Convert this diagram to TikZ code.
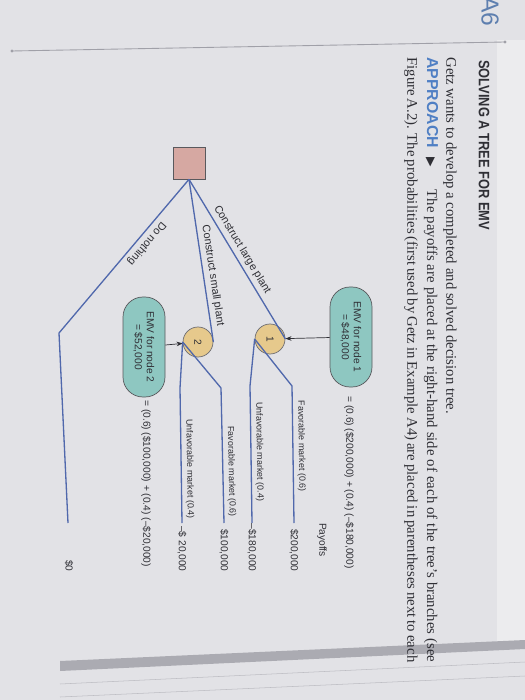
\documentclass[tikz,border=0pt]{standalone}
\usepackage{fontspec}
\setmainfont{Liberation Serif}
\setsansfont{Liberation Sans}
\newfontfamily\symfont{DejaVu Sans}
\usepackage{graphicx}
\usetikzlibrary{positioning}
\usetikzlibrary{arrows.meta}
\usetikzlibrary{shapes.geometric}

\definecolor{pagegray}{HTML}{E2E2E6}
\definecolor{inkgray}{HTML}{2F2F35}
\definecolor{branchblue}{HTML}{5068AC}
\definecolor{decfill}{HTML}{D6A8A2}
\definecolor{chancefill}{HTML}{E6C98C}
\definecolor{emvfill}{HTML}{8EC7C1}
\definecolor{approachblue}{HTML}{4F7FC4}
\definecolor{rulegray}{HTML}{A0A0A8}
\definecolor{edgeshadow}{HTML}{ABABB2}

\newcommand{\treefont}{\sffamily\fontsize{5.8}{6.8}\selectfont}
\newcommand{\marketfont}{\sffamily\fontsize{5.1}{6}\selectfont}
\newcommand{\actfont}{\sffamily\fontsize{6.2}{7}\selectfont}

\begin{document}
\begin{tikzpicture}[x=0.2mm,y=-0.2mm,
  branch/.style={draw=branchblue,line width=0.75pt},
  decbox/.style={draw=inkgray!80,fill=decfill,minimum size=6.4mm,inner sep=0pt},
  chance/.style={draw=inkgray!70,fill=chancefill,circle,minimum size=6mm,inner sep=0pt,rotate=-90,font=\treefont,text=inkgray},
  emvbox/.style={draw=inkgray!80,fill=emvfill,rounded corners=4mm,minimum width=20mm,minimum height=8.4mm,align=center,rotate=-90,font=\treefont,text=inkgray},
  treelabel/.style={font=\marketfont,text=inkgray,inner sep=2pt},
  payoff/.style={rotate=-90,anchor=east,font=\treefont,text=inkgray,inner sep=0pt},
  bodyline/.style={rotate=-90,anchor=west,inner sep=0pt,font=\fontsize{8.4}{10}\selectfont,text=inkgray},
  emvarrow/.style={-{Stealth[length=3.5pt,width=2.6pt]},draw=inkgray,line width=0.4pt}]
\useasboundingbox (0,0) rectangle (525,700);
\fill[pagegray] (0,0) rectangle (525,700);
\fill[white,opacity=0.35] (497,40) rectangle (525,645);
% page edge at the bottom
\fill[edgeshadow] (60,661) -- (525,640) -- (525,649) -- (60,671) -- cycle;
\draw[rulegray!70,line width=0.3pt] (60,684) -- (525,662);
\draw[rulegray!70,line width=0.3pt] (60,697) -- (525,676);

% heading
\node[rotate=-90,anchor=east,font=\sffamily\fontsize{14}{14}\selectfont,text=approachblue!70!gray,inner sep=0pt] (sec) at (490,27) {A6};
\coordinate (rl) at (12,51);
\coordinate (rr) at (505,42);
\draw[rulegray,line width=0.5pt] (rl) -- (rr);
\fill[rulegray] (rl) circle (1.6) (rr) circle (1.6);
\node[bodyline,font=\sffamily\bfseries\fontsize{8.6}{10}\selectfont] (head) at (484,60) {\scalebox{0.85}[1]{SOLVING A TREE FOR EMV}};
\node[bodyline] (getz) at (450,57) {Getz wants to develop a completed and solved decision tree.};
\node[bodyline] (appr) at (431,57) {\makebox[121mm][s]{{\sffamily\bfseries\fontsize{9}{10}\selectfont\color{approachblue}APPROACH}\hspace{2mm}{\symfont\fontsize{7}{8}\selectfont ▶}\hspace{4.5mm}The payoffs are placed at the right-hand side of each of the tree’s branches (see}};
\node[bodyline] (figl) at (411,57) {\makebox[121mm][s]{Figure A.2). The probabilities (first used by Getz in Example A4) are placed in parentheses next to each}};

% tree
\node[decbox] (dec) at (189,163) {};
\node[chance] (n1) at (270,339) {1};
\node[chance] (n2) at (198,342) {2};
\node[emvbox] (emv1) at (351,337) {EMV for node 1\\= \$48,000};
\node[emvbox] (emv2) at (144,347) {EMV for node 2\\= \$52,000};
\node[payoff,anchor=west] (f1) at (349,396) {= (0.6) (\$200,000) + (0.4) (–\$180,000)};
\node[payoff,anchor=west] (f2) at (146,400) {= (0.6) (\$100,000) + (0.4) (–\$20,000)};
\draw[emvarrow] (emv1) -- (n1);
\draw[emvarrow] (emv2) -- (n2);

\coordinate (c0) at (59,333);
\coordinate (e0) at (68,523);
\coordinate (c1f) at (292,386);
\coordinate (e1f) at (294,523);
\coordinate (c1u) at (250,386);
\coordinate (e1u) at (252,523);
\coordinate (c2f) at (221,388);
\coordinate (e2f) at (224,523);
\coordinate (c2u) at (180,388);
\coordinate (e2u) at (182,523);

\draw[branch] (dec.south) -- node[treelabel,font=\actfont,sloped,above,pos=0.47]{Construct large plant} (n1.north);
\draw[branch] (dec.south) -- node[treelabel,font=\actfont,sloped,above,pos=0.6]{Construct small plant} (n2.north);
\draw[branch] (dec.south) -- node[treelabel,font=\actfont,anchor=south,rotate=-130.4,pos=0.38]{Do nothing} (c0) -- (e0);
\draw[branch] (n1.south) -- (c1f) -- node[treelabel,sloped,above,pos=0.44]{Favorable market (0.6)} (e1f);
\draw[branch] (n1.south) -- (c1u) -- node[treelabel,sloped,above,pos=0.48]{Unfavorable market (0.4)} (e1u);
\draw[branch] (n2.south) -- (c2f) -- node[treelabel,sloped,above,pos=0.62]{Favorable market (0.6)} (e2f);
\draw[branch] (n2.south) -- (c2u) -- node[treelabel,sloped,above,pos=0.6]{Unfavorable market (0.4)} (e2u);

% payoffs
\node[payoff,anchor=center] (pay) at (322,540) {Payoffs};
\node[payoff] (p1) at (294,572) {\$200,000};
\node[payoff] (p2) at (252,572) {–\$180,000};
\node[payoff] (p3) at (224,572) {\$100,000};
\node[payoff] (p4) at (182,572) {–\$ 20,000};
\node[payoff] (p5) at (69,572) {\$0};
\end{tikzpicture}
\end{document}
